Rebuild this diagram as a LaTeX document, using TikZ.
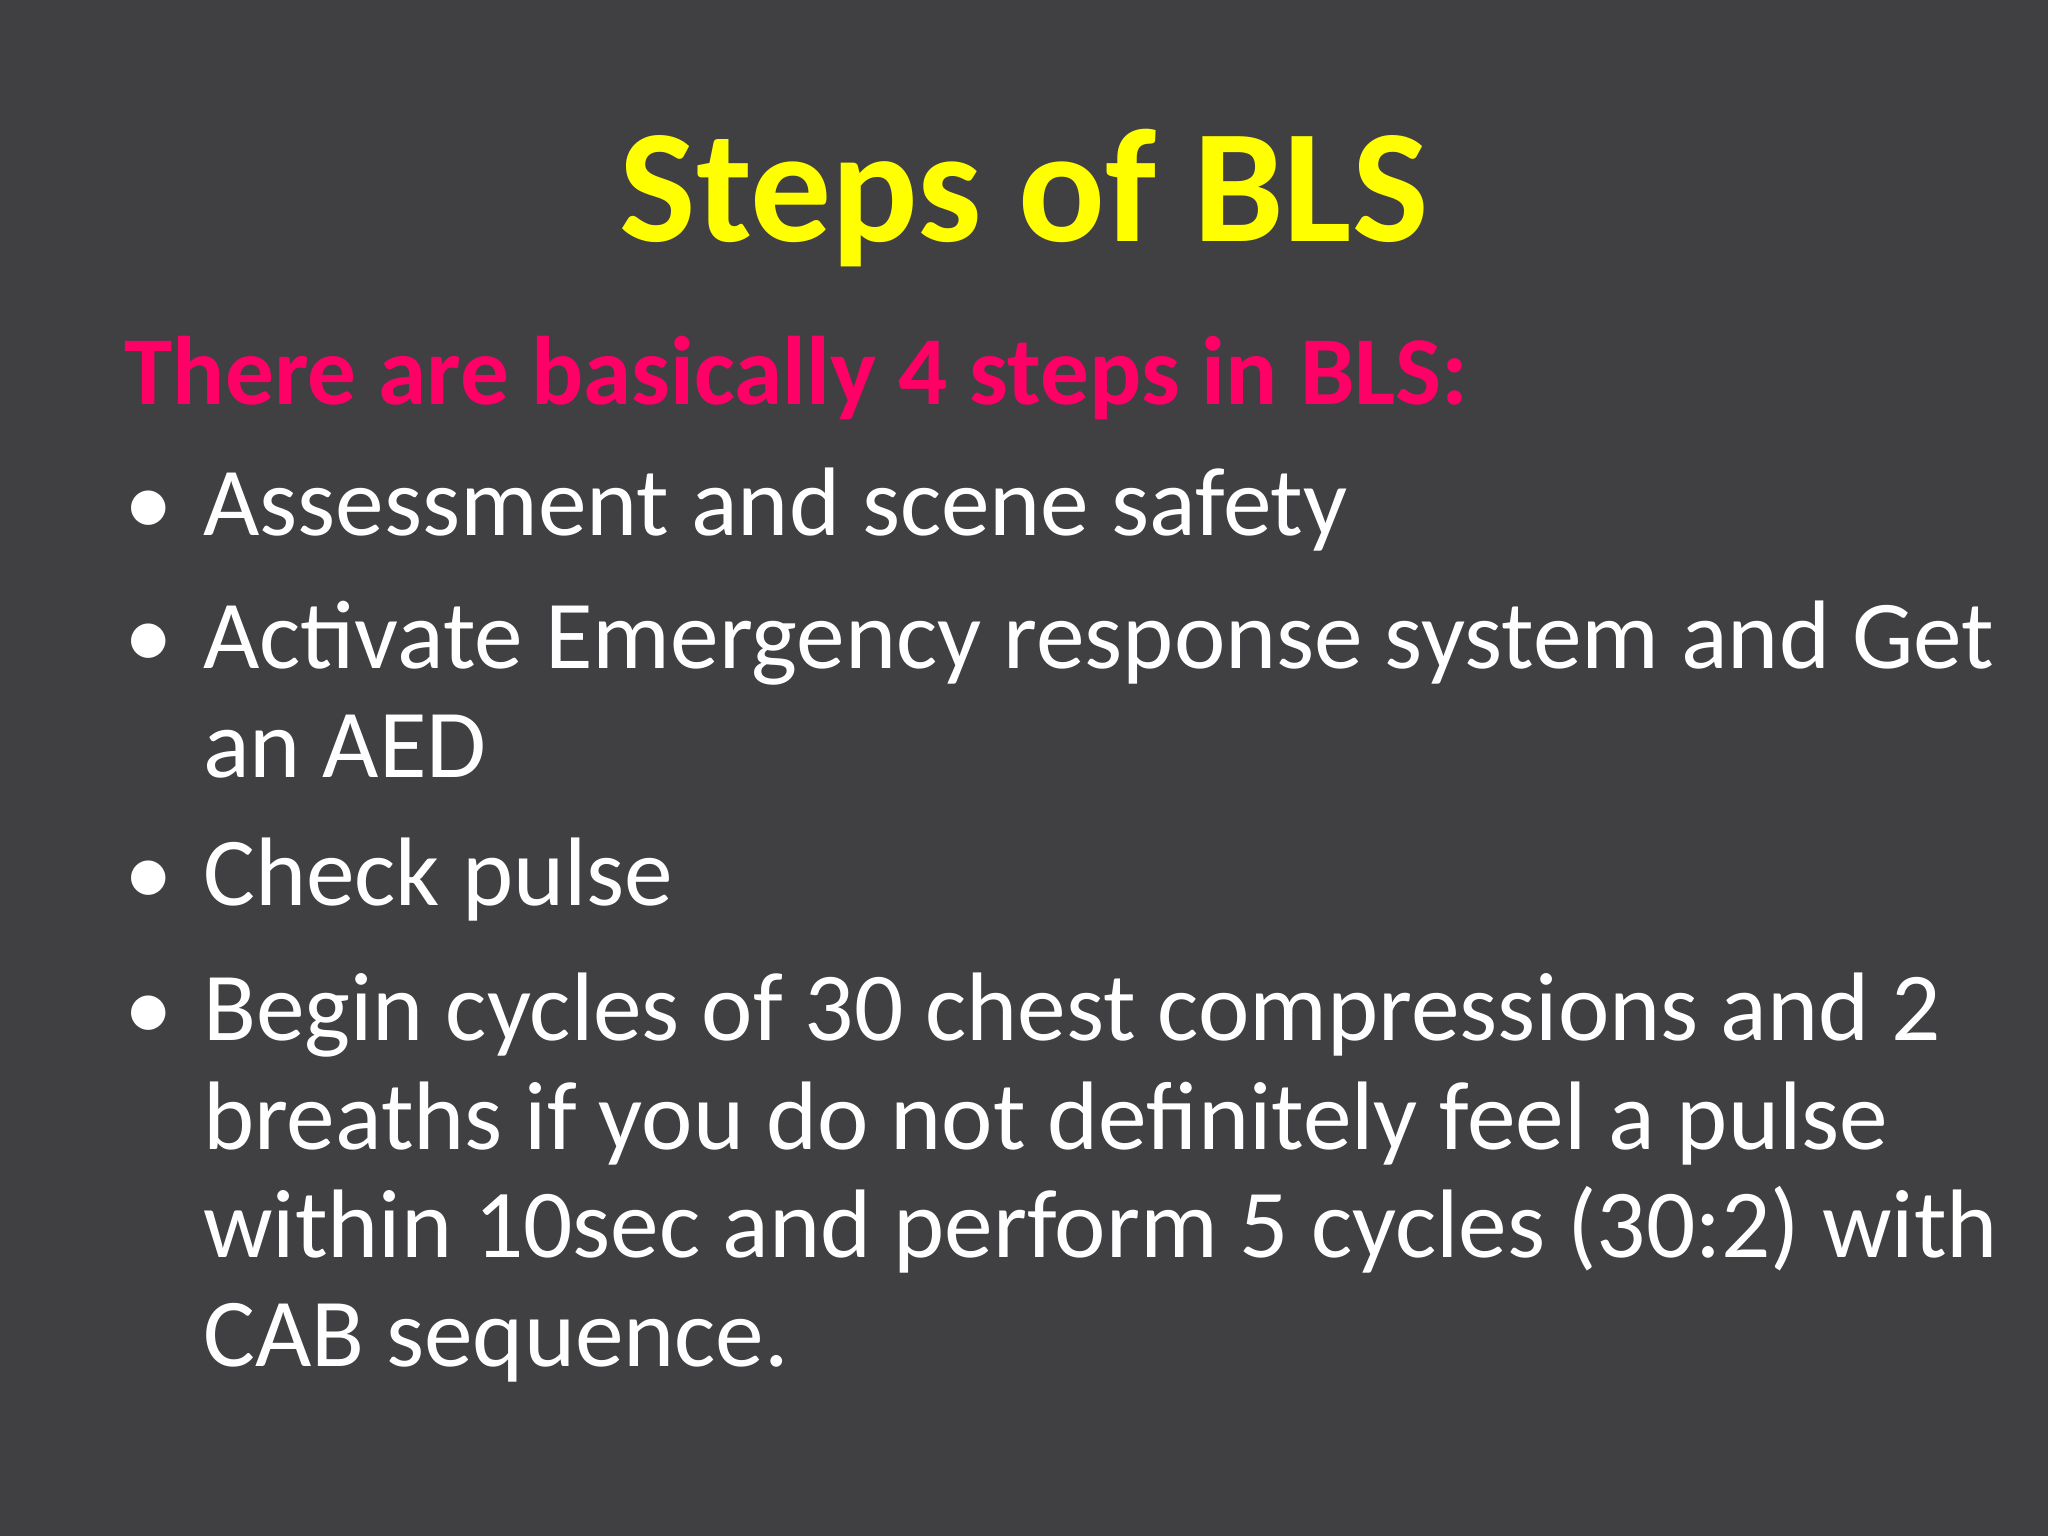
\documentclass[tikz,border=0pt]{standalone}
\usepackage{fontspec}
\setmainfont{Carlito}
\definecolor{bg}{HTML}{404042}
\definecolor{ttl}{HTML}{FFFF00}
\definecolor{sub}{HTML}{FF0066}
\begin{document}
\begin{tikzpicture}[x=0.01306cm,y=-0.01306cm,
  line/.style={anchor=base west,inner sep=0,text=white,font=\fontsize{27.7}{33}\selectfont},
  bul/.style={anchor=base west,inner sep=0,text=white,font=\fontsize{27.7}{33}\selectfont}]
\fill[bg] (0,0) rectangle (1568,1176);
\useasboundingbox (0,0) rectangle (1568,1176);
\node[anchor=base,inner sep=0,text=ttl,font=\fontsize{46}{50}\selectfont\bfseries] (title) at (784,185) {Steps of BLS};
\node[anchor=base west,inner sep=0,text=sub,font=\fontsize{27.7}{33}\selectfont\bfseries] (subt) at (95,310) {There are basically 4 steps in BLS:};
\node[bul] (b1) at (95,410) {\textbullet};
\node[line] (l1) at (155,410) {Assessment and scene safety};
\node[bul] (b2) at (95,512) {\textbullet};
\node[line] (l2) at (155,512) {Activate Emergency response system and Get};
\node[line] (l2b) at (155,595) {an AED};
\node[bul] (b3) at (95,693) {\textbullet};
\node[line] (l3) at (155,693) {Check pulse};
\node[bul] (b4) at (95,797) {\textbullet};
\node[line] (l4) at (155,797) {Begin cycles of 30 chest compressions and 2};
\node[line] (l4b) at (155,880) {breaths if you do not definitely feel a pulse};
\node[line] (l4c) at (155,963) {within 10sec and perform 5 cycles (30:2) with};
\node[line] (l4d) at (155,1046) {CAB sequence.};
\end{tikzpicture}
\end{document}
